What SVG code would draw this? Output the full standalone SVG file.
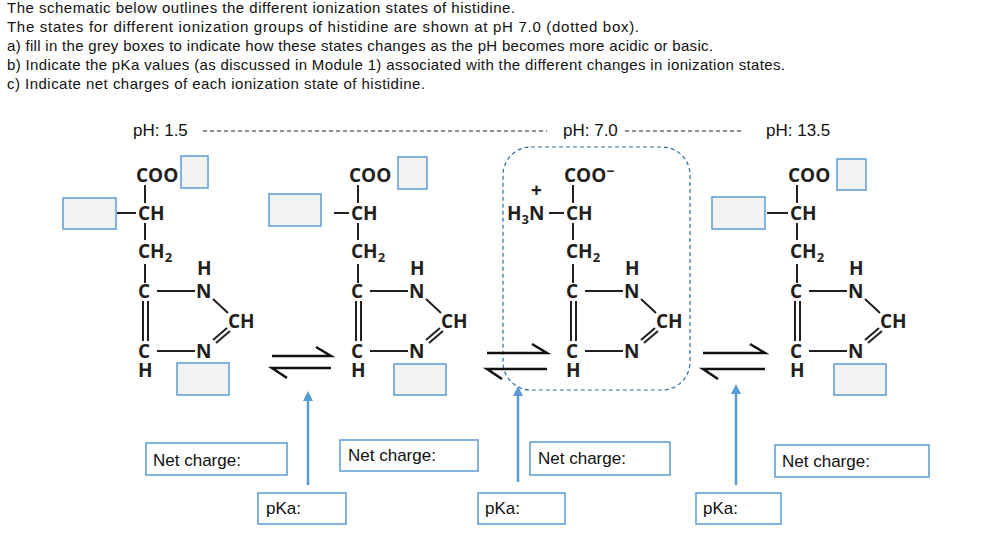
<svg xmlns="http://www.w3.org/2000/svg" width="982" height="545" viewBox="0 0 982 545">
<style>
.q{font-family:"Liberation Sans",Arial,sans-serif;font-size:15px;fill:#111}
.m{font-family:"Open Sans","Liberation Sans",sans-serif;font-weight:bold;font-size:19px;fill:#231f20}
.s{font-size:13px}
.b{stroke:#231f20;stroke-width:2;fill:none}
.g{fill:#f2f2f2;stroke:#5b9bd5;stroke-width:1.5}
.w{fill:#fff;stroke:#5b9bd5;stroke-width:1.5}
.l{font-family:"Liberation Sans",Arial,sans-serif;font-size:17px;fill:#111}
.e{stroke:#111;stroke-width:2.5;fill:none}
.u{stroke:#5b9bd5;stroke-width:2.5}
.d{stroke:#222;stroke-width:1;stroke-dasharray:4 3}
</style>
<defs>
<marker id="ah" viewBox="0 0 10 10" refX="5" refY="5" markerWidth="4" markerHeight="4" orient="auto"><path d="M0,0 L10,5 L0,10 z" fill="#5b9bd5"/></marker>
<g id="core">
<text class="m" x="138" y="220">CH</text>
<text class="m" x="138" y="258">CH<tspan class="s" dy="4">2</tspan></text>
<path class="b" d="M145,185V203M145,223V240M145,264V283"/>
<text class="m" x="197" y="275">H</text>
<text class="m" x="138" y="298">C</text>
<text class="m" x="196" y="298">N</text>
<path class="b" d="M157,291H195M213,299L228,313"/>
<text class="m" x="228" y="328">CH</text>
<path class="b" d="M216,343L230,331M213,340L227,328M143,301V341M148,301V341"/>
<text class="m" x="138" y="358">C</text>
<text class="m" x="196" y="358">N</text>
<path class="b" d="M157,351H195"/>
<text class="m" x="138" y="377">H</text>
</g>
</defs>
<g id="question">
<text class="q" x="7" y="13" textLength="508">The schematic below outlines the different ionization states of histidine.</text>
<text class="q" x="7" y="32" textLength="632">The states for different ionization groups of histidine are shown at pH 7.0 (dotted box).</text>
<text class="q" x="7" y="51" textLength="706">a) fill in the grey boxes to indicate how these states changes as the pH becomes more acidic or basic.</text>
<text class="q" x="7" y="70" textLength="778">b) Indicate the pKa values (as discussed in Module 1) associated with the different changes in ionization states.</text>
<text class="q" x="7" y="89" textLength="418">c) Indicate net charges of each ionization state of histidine.</text>
</g>
<g id="ph">
<text class="l" x="133" y="136">pH: 1.5</text>
<line class="d" x1="203" y1="131" x2="547" y2="131"/>
<text class="l" x="563" y="136">pH: 7.0</text>
<line class="d" x1="625" y1="131" x2="742" y2="131"/>
<text class="l" x="766" y="136">pH: 13.5</text>
</g>
<rect x="503" y="147" width="187" height="243" rx="28" fill="none" stroke="#2e6da4" stroke-width="1.2" stroke-dasharray="4 3"/>
<g id="mol1">
<use href="#core"/>
<text class="m" x="136" y="182">COO</text>
<path class="b" d="M117,213H136"/>
<rect class="g" x="181" y="156" width="27" height="32"/>
<rect class="g" x="63" y="198" width="53" height="31"/>
<rect class="g" x="177" y="363" width="52" height="32"/>
</g>
<g id="mol2" transform="translate(213,0)">
<use href="#core"/>
<text class="m" x="136" y="182">COO</text>
<path class="b" d="M121,213H136"/>
<rect class="g" x="185" y="157" width="29" height="32"/>
<rect class="g" x="56" y="194" width="52" height="32"/>
<rect class="g" x="181" y="364" width="52" height="31"/>
</g>
<g id="mol3" transform="translate(428,0)">
<use href="#core"/>
<text class="m" x="136" y="182">COO<tspan dy="-6" font-size="14">−</tspan></text>
<text class="m" x="79" y="220">H<tspan class="s" dy="4">3</tspan><tspan dy="-4">N</tspan></text>
<text class="m" x="103" y="197" font-size="14">+</text>
<path class="b" d="M121,213H136"/>
</g>
<g id="mol4" transform="translate(652,0)">
<use href="#core"/>
<text class="m" x="136" y="182">COO</text>
<path class="b" d="M115,213H136"/>
<rect class="g" x="185" y="159" width="29" height="31"/>
<rect class="g" x="60" y="197" width="53" height="32"/>
<rect class="g" x="182" y="364" width="52" height="31"/>
</g>
<g id="connectors">
<path class="e" d="M272,356H331L316,347M331,368H272L287,378"/>
<path class="e" d="M487,353H547L532,344M547,369H487L502,379"/>
<path class="e" d="M703,353H765L750,344M765,369H703L718,379"/>
<line class="u" x1="308" y1="485" x2="308" y2="396" marker-end="url(#ah)"/>
<line class="u" x1="518" y1="482" x2="518" y2="391" marker-end="url(#ah)"/>
<line class="u" x1="736" y1="485" x2="736" y2="389" marker-end="url(#ah)"/>
</g>
<g id="charges">
<rect class="w" x="146" y="443" width="141" height="32"/><text class="l" x="153" y="466">Net charge:</text>
<rect class="w" x="340" y="440" width="138" height="31"/><text class="l" x="348" y="461">Net charge:</text>
<rect class="w" x="530" y="442" width="140" height="33"/><text class="l" x="538" y="464">Net charge:</text>
<rect class="w" x="775" y="445" width="154" height="32"/><text class="l" x="782" y="467">Net charge:</text>
</g>
<g id="pka">
<rect class="w" x="258" y="493" width="88" height="31"/><text class="l" x="266" y="514">pKa:</text>
<rect class="w" x="478" y="493" width="87" height="31"/><text class="l" x="485" y="514">pKa:</text>
<rect class="w" x="696" y="493" width="85" height="31"/><text class="l" x="703" y="514">pKa:</text>
</g>
</svg>
